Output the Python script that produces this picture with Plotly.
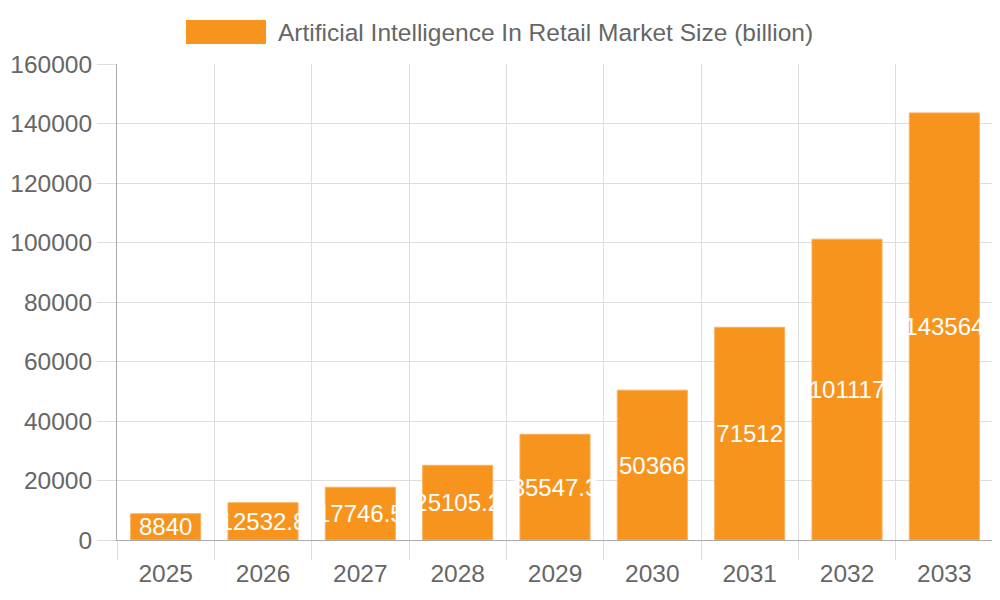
import plotly.graph_objects as go

# data
years = ["2025", "2026", "2027", "2028", "2029", "2030", "2031", "2032", "2033"]
market_size = [8840, 12532.8, 17746.5, 25105.2, 35547.3, 50366, 71512, 101117, 143564]
series_name = "Artificial Intelligence In Retail Market Size (billion)"
y_ticks = [0, 20000, 40000, 60000, 80000, 100000, 120000, 140000, 160000]

orange = "#F7941E"
grid = "#dedede"
text_col = "#666666"
font = "Liberation Sans, Arial, sans-serif"

fig = go.Figure()
fig.add_trace(go.Bar(
    x = years,
    y = market_size,
    name = series_name,
    marker = dict(color = orange, line = dict(color = "#f9b060", width = 1)),
    width = 0.72,
    text = [f"{v:g}" for v in market_size],
    textposition = "inside",
    insidetextanchor = "middle",
    textangle = 0,
    constraintext = "none",
    insidetextfont = dict(color = "white", size = 24, family = font),
    showlegend = False,
))

# second x axis only for the gridlines between categories
fig.add_trace(go.Scatter(x = [0], y = [0], xaxis = "x2", mode = "markers",
                         marker = dict(opacity = 0), showlegend = False, hoverinfo = "skip"))

# the page body adds an 8px offset, margins are set to land the plot at 117..993 x 64..540
fig.update_layout(
    width = 1000, height = 600,
    margin = dict(l = 109, r = 15, t = 56, b = 68, autoexpand = False),
    paper_bgcolor = "white", plot_bgcolor = "white",
    font = dict(family = font, size = 24, color = text_col),
    xaxis = dict(type = "category", showgrid = False, showline = True, linecolor = "#aaaaaa",
                 linewidth = 1, ticks = "", ticklabelstandoff = 12, automargin = False,
                 tickfont = dict(size = 24.5, color = text_col)),
    xaxis2 = dict(overlaying = "x", range = [-0.5, 8.5], tick0 = -0.5, dtick = 1,
                  showgrid = True, gridcolor = grid, gridwidth = 1, showticklabels = False,
                  ticks = "outside", ticklen = 19, tickcolor = grid, side = "bottom",
                  zeroline = False, showline = False, layer = "below traces", automargin = False),
    yaxis = dict(range = [0, 160000], tickvals = y_ticks, ticktext = [str(t) for t in y_ticks],
                 showgrid = True, gridcolor = grid, gridwidth = 1, showline = True,
                 linecolor = "#aaaaaa", linewidth = 1, automargin = False,
                 ticks = "outside", ticklen = 19, tickcolor = grid,
                 zeroline = True, zerolinecolor = "#aaaaaa", zerolinewidth = 1,
                 tickfont = dict(size = 24.5, color = text_col)),
    showlegend = False,
    # legend drawn by hand so the swatch has the wide chart.js shape
    shapes = [dict(type = "rect", xref = "paper", yref = "paper",
                   x0 = (186 - 117) / 876, x1 = (266 - 117) / 876,
                   y0 = (540 - 44) / 476, y1 = (540 - 20) / 476,
                   fillcolor = orange, line = dict(width = 0))],
    annotations = [dict(text = series_name, xref = "paper", yref = "paper",
                        x = (276 - 117) / 876, y = (540 - 32) / 476,
                        xanchor = "left", yanchor = "middle", showarrow = False,
                        font = dict(size = 24.5, color = text_col))],
)

fig.write_html("out.html")
